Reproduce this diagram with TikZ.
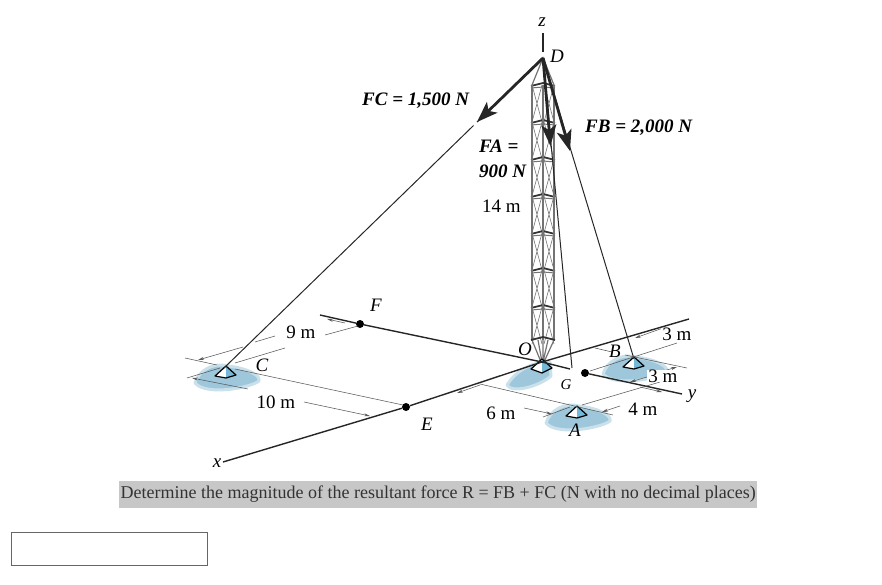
\documentclass[tikz,border=0pt]{standalone}
\usepackage{fontspec}
\setmainfont{Liberation Serif}
\usepackage{tikz}
\usetikzlibrary{arrows.meta}
\definecolor{shadow}{rgb}{0.62,0.78,0.86}
\definecolor{anchorblue}{rgb}{0.45,0.72,0.84}
\definecolor{barcolor}{rgb}{0.78,0.78,0.78}
\definecolor{towergray}{rgb}{0.45,0.45,0.45}
\definecolor{dimgray}{rgb}{0.35,0.35,0.35}
\newcommand{\anchorbase}[2]{%
	\filldraw[fill=shadow, draw=shadow!55, line width=3pt, line join=round] (#1-31,#2+10) .. controls (#1-27,#2-3) and (#1-12,#2-11) .. (#1+2,#2-7) .. controls (#1+20,#2-5) and (#1+35,#2+2) .. (#1+33,#2+8) .. controls (#1+24,#2+15) and (#1-20,#2+23) .. (#1-31,#2+10) -- cycle;
	\fill[white] (#1,#2-7) -- (#1-11,#2+3) -- (#1,#2+5) -- cycle;
	\fill[anchorblue] (#1,#2-7) -- (#1+10,#2+2) -- (#1,#2+5) -- cycle;
	\draw[line width=1.2pt, line join=round] (#1,#2-7) -- (#1-11,#2+3) -- (#1,#2+5) -- (#1+10,#2+2) -- cycle;
}
\begin{document}
\begin{tikzpicture}[x=1pt, y=-1pt, every node/.style={inner sep=0pt},
	lbl/.style={font=\fontsize{19}{22}\selectfont},
	var/.style={font=\fontsize{19}{22}\selectfont\itshape},
	force/.style={font=\fontsize{19}{22}\selectfont\itshape\bfseries},
	axis/.style={line width=1.4pt, black!85},
	cable/.style={line width=1pt, black!85},
	forcearrow/.style={line width=2.8pt, black!85, -{Stealth[length=21pt, width=15pt, inset=5pt]}},
	dimline/.style={line width=0.55pt, dimgray},
	dimarrow/.style={line width=0.55pt, dimgray, -{Stealth[length=6pt, width=3pt]}},
	dot/.style={circle, fill=black, minimum size=8pt}]
	\useasboundingbox (0,0) rectangle (882,585);
	% points
	\coordinate (D) at (543,58);
	\coordinate (O) at (542,362);
	\coordinate (B) at (634,359);
	\coordinate (C) at (224,368);
	\coordinate (G) at (572,368);
	\node[dot] (E) at (406,407) {};
	\node[dot] (F) at (360,324) {};
	\node[dot] (H) at (585,373) {};
	\coordinate (xend) at (223,462);
	\coordinate (yend) at (682,394);
	\coordinate (axisend) at (689,319);
	\coordinate (Fend) at (320,315);
	\coordinate (ztop) at (543,33);
	\coordinate (zbot) at (543,52);
	% ground shadows
	\anchorbase{577}{413}
	\anchorbase{634}{364}
	\anchorbase{226}{373}
	\filldraw[fill=shadow, draw=shadow!55, line width=3pt, line join=round] (507,385) .. controls (515,372) and (530,362) .. (550,362) -- (551,376) .. controls (540,386) and (512,394) .. (507,385) -- cycle;
	% tower
	\foreach \y in {85,122,159,196,233,270,307} {
		\draw[line width=0.6pt, towergray] (532,\y) -- (542,\y+37) (542,\y) -- (532,\y+37) (544,\y) -- (554,\y+37) (554,\y) -- (544,\y+37);
		\draw[line width=1.8pt, black!80] (531,\y+1) -- (543,\y-2) -- (555,\y+1);
		\draw[line width=1pt, towergray] (531,\y+3) -- (543,\y+2) -- (555,\y+3);
	}
	\draw[line width=2pt, towergray] (532,85) -- (532,340) (543,85) -- (543,340) (554,85) -- (554,340);
	\draw[line width=1.2pt, towergray] (532,340) -- (541,362) (554,340) -- (544,362) (543,340) -- (543,362) (538,340) -- (542,362) (548,340) -- (543,362);
	\draw[line width=1.8pt, black!80] (531,340) -- (543,337) -- (555,340);
	\draw[line width=1.2pt, towergray] (532,85) -- (543,58) -- (554,85);
	% anchor at the tower foot
	\fill[white] (542,359) -- (531,369) -- (542,373) -- cycle;
	\fill[anchorblue] (542,359) -- (552,368) -- (542,373) -- cycle;
	\draw[line width=1.2pt, line join=round] (542,359) -- (531,369) -- (542,373) -- (552,368) -- cycle;
	% axes
	\draw[axis] (xend) -- (E) -- (O) -- (axisend);
	\draw[axis] (Fend) -- (F) -- (O) -- (570,369);
	\draw[axis] (H) -- (yend);
	\draw[axis] (ztop) -- (zbot);
	% cables and forces
	\draw[cable] (D) -- (C);
	\draw[cable] (D) -- (B);
	\draw[cable] (D) -- (G);
	\fill[white] (475.5,124) circle (2.5pt);
	\draw[forcearrow] (D) -- (477,122);
	\draw[forcearrow] (D) -- (550.5,146);
	\draw[forcearrow] (D) -- (570,151);
	% dimension lines
	\draw[dimline] (185,358) -- (217,365) (235,369) -- (403,405);
	\draw[dimline] (187,378) -- (220,368) (235,363) -- (285,348);
	\draw[dimline] (255,342) -- (275,336) (325,335) -- (358,326);
	\draw[dimline] (480,384) -- (613,415);
	\draw[dimline] (543,417) -- (570,407) (582,405) -- (660,382);
	\draw[dimline] (590,371) -- (677,343);
	\draw[dimline] (595,348) -- (612,352) (625,355) -- (687,368);
	\draw[dimarrow] (243,347) -- (198,360);
	\draw[dimarrow] (248,389) -- (192,378);
	\draw[dimarrow] (304,402) -- (370,416);
	\draw[dimarrow] (345,323) -- (327,319);
	\draw[dimarrow] (480,385) -- (457,393);
	\draw[dimarrow] (524,408) -- (552,414);
	\draw[dimarrow] (620,406) -- (602,412);
	\draw[dimarrow] (647,377) -- (630,382);
	\draw[dimarrow] (660,372) -- (677,367);
	\draw[dimarrow] (663,328) -- (635,338);
	\draw[dimarrow] (640,387) -- (662,392);
	% labels
	\node[var] (zlbl) at (542,22) {z};
	\node[var] (Dlbl) at (557,56) {D};
	\node[force, anchor=west] (FClbl) at (362,101) {FC = 1,500 N};
	\node[force, anchor=west] (FBlbl) at (585,128) {FB = 2,000 N};
	\node[force, align=left, anchor=north west] (FAlbl) at (479,140) {FA =\\[3pt]900 N};
	\node[lbl, anchor=west] (ht) at (482,206) {14 m};
	\node[var] (Flbl) at (376,305) {F};
	\node[lbl, fill=white, inner xsep=2pt] (nine) at (301,332) {9 m};
	\node[var] (Clbl) at (262,365) {C};
	\node[lbl, fill=white, inner xsep=2pt] (ten) at (276,402) {10 m};
	\node[var] (Elbl) at (427,424) {E};
	\node[var] (xlbl) at (217,463) {x};
	\node[var] (Olbl) at (525,349) {O};
	\node[var] (Blbl) at (615,351) {B};
	\node[font=\fontsize{15}{17}\selectfont\itshape] (Glbl) at (566,385) {G};
	\node[var] (Albl) at (575,430) {A};
	\node[lbl, fill=white, inner xsep=2pt] (six) at (501,413) {6 m};
	\node[lbl, fill=white, inner xsep=2pt] (four) at (643,409) {4 m};
	\node[lbl, fill=white, inner xsep=1pt] (threeb) at (663,376) {3 m};
	\node[lbl, fill=white, inner xsep=1pt] (threet) at (677,334) {3 m};
	\node[var] (ylbl) at (692,396) {y};
	% question
	\node[fill=barcolor, text=black!80, font=\fontsize{18}{22}\selectfont, anchor=west, minimum height=27pt, minimum width=638pt, align=center] (question) at (119,494.5) {\raisebox{-2pt}{Determine the magnitude of the resultant force R = FB + FC (N with no decimal places)}};
	\node[draw=black!60, line width=0.8pt, fill=white, anchor=north west, minimum width=196pt, minimum height=33pt] (answer) at (11,532) {};
\end{tikzpicture}
\end{document}
